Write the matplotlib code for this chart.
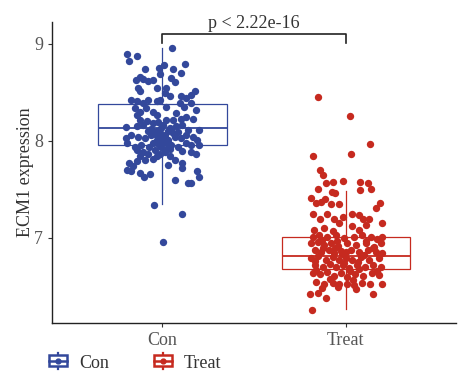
import matplotlib
matplotlib.use("Agg")
import matplotlib.pyplot as plt
from matplotlib.legend_handler import HandlerBase
from matplotlib.patches import Rectangle, Patch
from matplotlib.lines import Line2D

plt.rcParams['font.family'] = ['Liberation Serif', 'DejaVu Serif']

groups = ['Con', 'Treat']
colors = ['#33489B', '#C62A1F']

# box statistics
q1 = [7.96, 6.68]
med = [8.13, 6.81]
q3 = [8.38, 7.01]
whislo = [7.35, 6.27]
whishi = [8.96, 7.48]

# jittered points: (x offset, value)
con_dx = [0.054, -0.19, -0.14, -0.18, 0.125, 0.007, -0.094, -0.02, 0.058, 0.103, -0.015,
          -0.12, -0.145, -0.105, -0.078, -0.05, 0.049, 0.067,
          -0.13, -0.03, 0.02, -0.12, 0.013, 0.176, 0.158, 0.04, 0.10, 0.13,
          -0.17, -0.14, -0.105, -0.078, -0.03, -0.015, 0.02, 0.094, 0.12, 0.158, 0.185,
          -0.15, -0.12, -0.087, -0.05, -0.03, -0.14, 0.076, 0.13, 0.167, -0.12, 0.02, 0.058, 0.10,
          -0.196, -0.14, -0.105, -0.05, 0.004, 0.04, 0.076, 0.11, 0.14, 0.20, -0.078, -0.03, 0.058,
          -0.196, -0.17, -0.13, -0.096, -0.06, -0.02, 0.013, 0.03, 0.067, 0.10, 0.13, 0.167, 0.19,
          -0.19, -0.15, -0.114, -0.07, -0.03, -0.005, 0.004, 0.02, 0.049, 0.085, 0.13, 0.158, 0.20,
          -0.14, -0.105, -0.078, -0.04, -0.015, 0.013, 0.105, 0.158, 0.185, -0.12,
          -0.096, -0.05, -0.03, 0.04, 0.067, 0.105, -0.18, -0.14, -0.16, -0.19, -0.17, 0.03, 0.11,
          -0.12, -0.10, -0.065, 0.19, 0.20, 0.067, 0.14, 0.154,
          -0.047, 0.11, 0.004,
          -0.015, 0.013, -0.03, 0.03, -0.005, -0.05, 0.043,
          -0.06, 0.0, 0.035, -0.025, 0.05, -0.085, 0.085, -0.01, 0.02, -0.04]
con_y = [8.96, 8.90, 8.87, 8.82, 8.79, 8.78, 8.74, 8.75, 8.74, 8.70, 8.69,
         8.66, 8.63, 8.64, 8.62, 8.63, 8.65, 8.61,
         8.55, 8.55, 8.54, 8.51, 8.49, 8.51, 8.47, 8.46, 8.46, 8.44,
         8.42, 8.41, 8.39, 8.42, 8.41, 8.42, 8.35, 8.39, 8.35, 8.39, 8.32,
         8.34, 8.30, 8.34, 8.30, 8.27, 8.27, 8.29, 8.25, 8.23, 8.22, 8.22, 8.22, 8.23,
         8.14, 8.15, 8.16, 8.18, 8.16, 8.13, 8.15, 8.16, 8.11, 8.11, 8.10, 8.10, 8.08,
         8.03, 8.06, 8.04, 8.03, 8.06, 8.04, 8.06, 8.01, 8.04, 8.03, 8.06, 8.04, 8.01,
         7.98, 7.94, 7.96, 7.94, 7.98, 7.94, 7.99, 7.92, 7.96, 7.94, 7.98, 7.96, 7.96,
         7.91, 7.89, 7.86, 7.91, 7.87, 7.89, 7.90, 7.89, 7.87, 7.84,
         7.80, 7.81, 7.84, 7.84, 7.80, 7.77, 7.77, 7.79, 7.74, 7.70, 7.69, 7.75, 7.72,
         7.67, 7.63, 7.66, 7.69, 7.63, 7.60, 7.57, 7.57,
         7.34, 7.25, 6.96,
         8.08, 8.01, 8.01, 8.10, 8.13, 7.98, 7.92,
         8.12, 8.05, 7.97, 8.19, 8.12, 8.20, 8.09, 7.95, 8.02, 8.07]

treat_dx = [-0.154, 0.024, 0.132, -0.178, 0.027,
            -0.14, -0.127, -0.19, -0.109, -0.069, -0.018, 0.078, 0.123, 0.136, 0.076,
            -0.149, -0.112, -0.076, -0.058, -0.163, -0.136, -0.083, -0.036, 0.185, 0.163,
            0.036, 0.069, 0.094, 0.127, 0.199, -0.181, -0.14, -0.1, -0.063, -0.036, -0.018,
            0.033, 0.072, 0.109, -0.172, -0.118, -0.072,
            -0.18, -0.145, -0.1, -0.054, -0.009, 0.045, 0.09, 0.136, 0.172, 0.199,
            -0.19, -0.154, -0.118, -0.08, -0.045, 0.009, 0.054, 0.109, 0.154, 0.19,
            -0.17, -0.136, -0.09, -0.063, -0.027, 0.027, 0.072, 0.118, 0.163, 0.196,
            -0.19, -0.149, -0.109, -0.072, -0.04, 0.0, 0.036, 0.082, 0.127, 0.181,
            -0.167, -0.127, -0.087, -0.051, -0.014, 0.018, 0.063, 0.105, 0.149, 0.19,
            -0.18, -0.14, -0.1, -0.063, -0.027, 0.009, 0.05, 0.094, 0.141, 0.181,
            -0.163, -0.118, -0.072, -0.036, 0.004, 0.045, 0.087, 0.13, 0.196,
            -0.13, -0.045, 0.058,
            -0.196, -0.149, -0.109, 0.149, -0.185,
            -0.125, -0.02, 0.065, -0.16, 0.1, -0.05, 0.02, 0.15, -0.085, 0.04,
            -0.13, 0.07, -0.01, 0.11, -0.17, 0.17, -0.06, 0.0]
treat_y = [8.45, 8.26, 7.97, 7.84, 7.86,
           7.70, 7.65, 7.41, 7.57, 7.58, 7.59, 7.58, 7.57, 7.50, 7.49,
           7.50, 7.40, 7.47, 7.46, 7.36, 7.37, 7.35, 7.35, 7.36, 7.31,
           7.25, 7.24, 7.20, 7.19, 7.15, 7.25, 7.20, 7.25, 7.19, 7.15, 7.22,
           7.12, 7.08, 7.13, 7.08, 7.10, 7.07,
           7.01, 7.03, 7.01, 7.03, 7.00, 7.01, 7.03, 7.01, 6.99, 7.01,
           6.95, 6.96, 6.93, 6.95, 6.92, 6.95, 6.93, 6.95, 6.91, 6.95,
           6.88, 6.86, 6.88, 6.84, 6.87, 6.88, 6.85, 6.88, 6.86, 6.84,
           6.79, 6.81, 6.77, 6.80, 6.77, 6.79, 6.77, 6.80, 6.77, 6.79,
           6.72, 6.70, 6.73, 6.70, 6.72, 6.69, 6.72, 6.70, 6.72, 6.70,
           6.64, 6.63, 6.65, 6.61, 6.64, 6.60, 6.63, 6.61, 6.64, 6.62,
           6.55, 6.53, 6.54, 6.52, 6.53, 6.51, 6.54, 6.53, 6.53,
           6.48, 6.49, 6.47,
           6.42, 6.43, 6.38, 6.42, 6.26,
           6.90, 6.83, 6.75, 6.67, 6.82, 6.97, 6.66, 6.90, 6.58, 6.57,
           6.98, 6.68, 6.74, 6.97, 6.76, 6.66, 6.90, 6.86]

p_label = 'p < 2.22e-16'


class HandlerBoxGlyph(HandlerBase):
    def create_artists(self, legend, orig, xdescent, ydescent, width, height, fontsize, trans):
        c = orig.get_edgecolor()
        w = width
        x0 = xdescent
        y0 = -ydescent
        h = height * 1.1
        box = Rectangle((x0, y0 + h * 0.1), w, h * 0.8, facecolor='white',
                        edgecolor=c, lw=1.8, transform=trans)
        mid = Line2D([x0, x0 + w], [y0 + h / 2] * 2, color=c, lw=1.8, transform=trans)
        vline = Line2D([x0 + w / 2] * 2, [y0 - h * 0.08, y0 + h * 1.08], color=c, lw=1.6,
                       transform=trans)
        dot = Line2D([x0 + w / 2], [y0 + h / 2], marker='o', ms=3.5, color=c, transform=trans)
        return [vline, box, mid, dot]


fig = plt.figure(figsize=(4.74, 3.9), dpi=100)
ax = fig.add_axes([0.110, 0.172, 0.852, 0.772])

stats = []
for i in range(2):
    stats.append(dict(q1=q1[i], med=med[i], q3=q3[i], whislo=whislo[i], whishi=whishi[i],
                      fliers=[], label=groups[i]))
bp = ax.bxp(stats, positions=[1, 2], widths=0.7, showcaps=False, patch_artist=True,
            boxprops=dict(facecolor='none', lw=0.9),
            medianprops=dict(lw=1.3), whiskerprops=dict(lw=0.9))
for i, c in enumerate(colors):
    bp['boxes'][i].set_edgecolor(c)
    bp['medians'][i].set_color(c)
    for w in bp['whiskers'][2 * i:2 * i + 2]:
        w.set_color(c)

ax.scatter([1 + d for d in con_dx], con_y, s=28, color=colors[0], zorder=3, lw=0)
ax.scatter([2 + d for d in treat_dx], treat_y, s=28, color=colors[1], zorder=3, lw=0)

# significance bracket
ax.plot([1, 1, 2, 2], [9.01, 9.10, 9.10, 9.01], color='#222222', lw=1.2, clip_on=False)
ax.text(1.5, 9.12, p_label, ha='center', va='bottom', fontsize=13, color='#333333')

ax.set_xlim(0.4, 2.6)
ax.set_ylim(6.124, 9.227)
ax.set_xticks([1, 2])
ax.set_xticklabels(groups)
ax.set_yticks([7, 8, 9])
ax.tick_params(labelsize=13, labelcolor='#555555', length=3, width=0.8, color='#333333')
ax.set_ylabel('ECM1 expression', fontsize=13, color='#333333', labelpad=0)
for s in ['top', 'right']:
    ax.spines[s].set_visible(False)
for s in ['left', 'bottom']:
    ax.spines[s].set_linewidth(1.0)
    ax.spines[s].set_color('#222222')

handles = [Patch(edgecolor=c, facecolor='white', label=g) for g, c in zip(groups, colors)]
fig.legend(handles=handles, loc='center left', bbox_to_anchor=(0.07, 0.069), ncol=2,
           frameon=False, fontsize=13, handler_map={Patch: HandlerBoxGlyph()},
           handlelength=1.0, handletextpad=0.65, columnspacing=2.5, labelcolor='#333333')

fig.savefig('out.png', dpi=100)
